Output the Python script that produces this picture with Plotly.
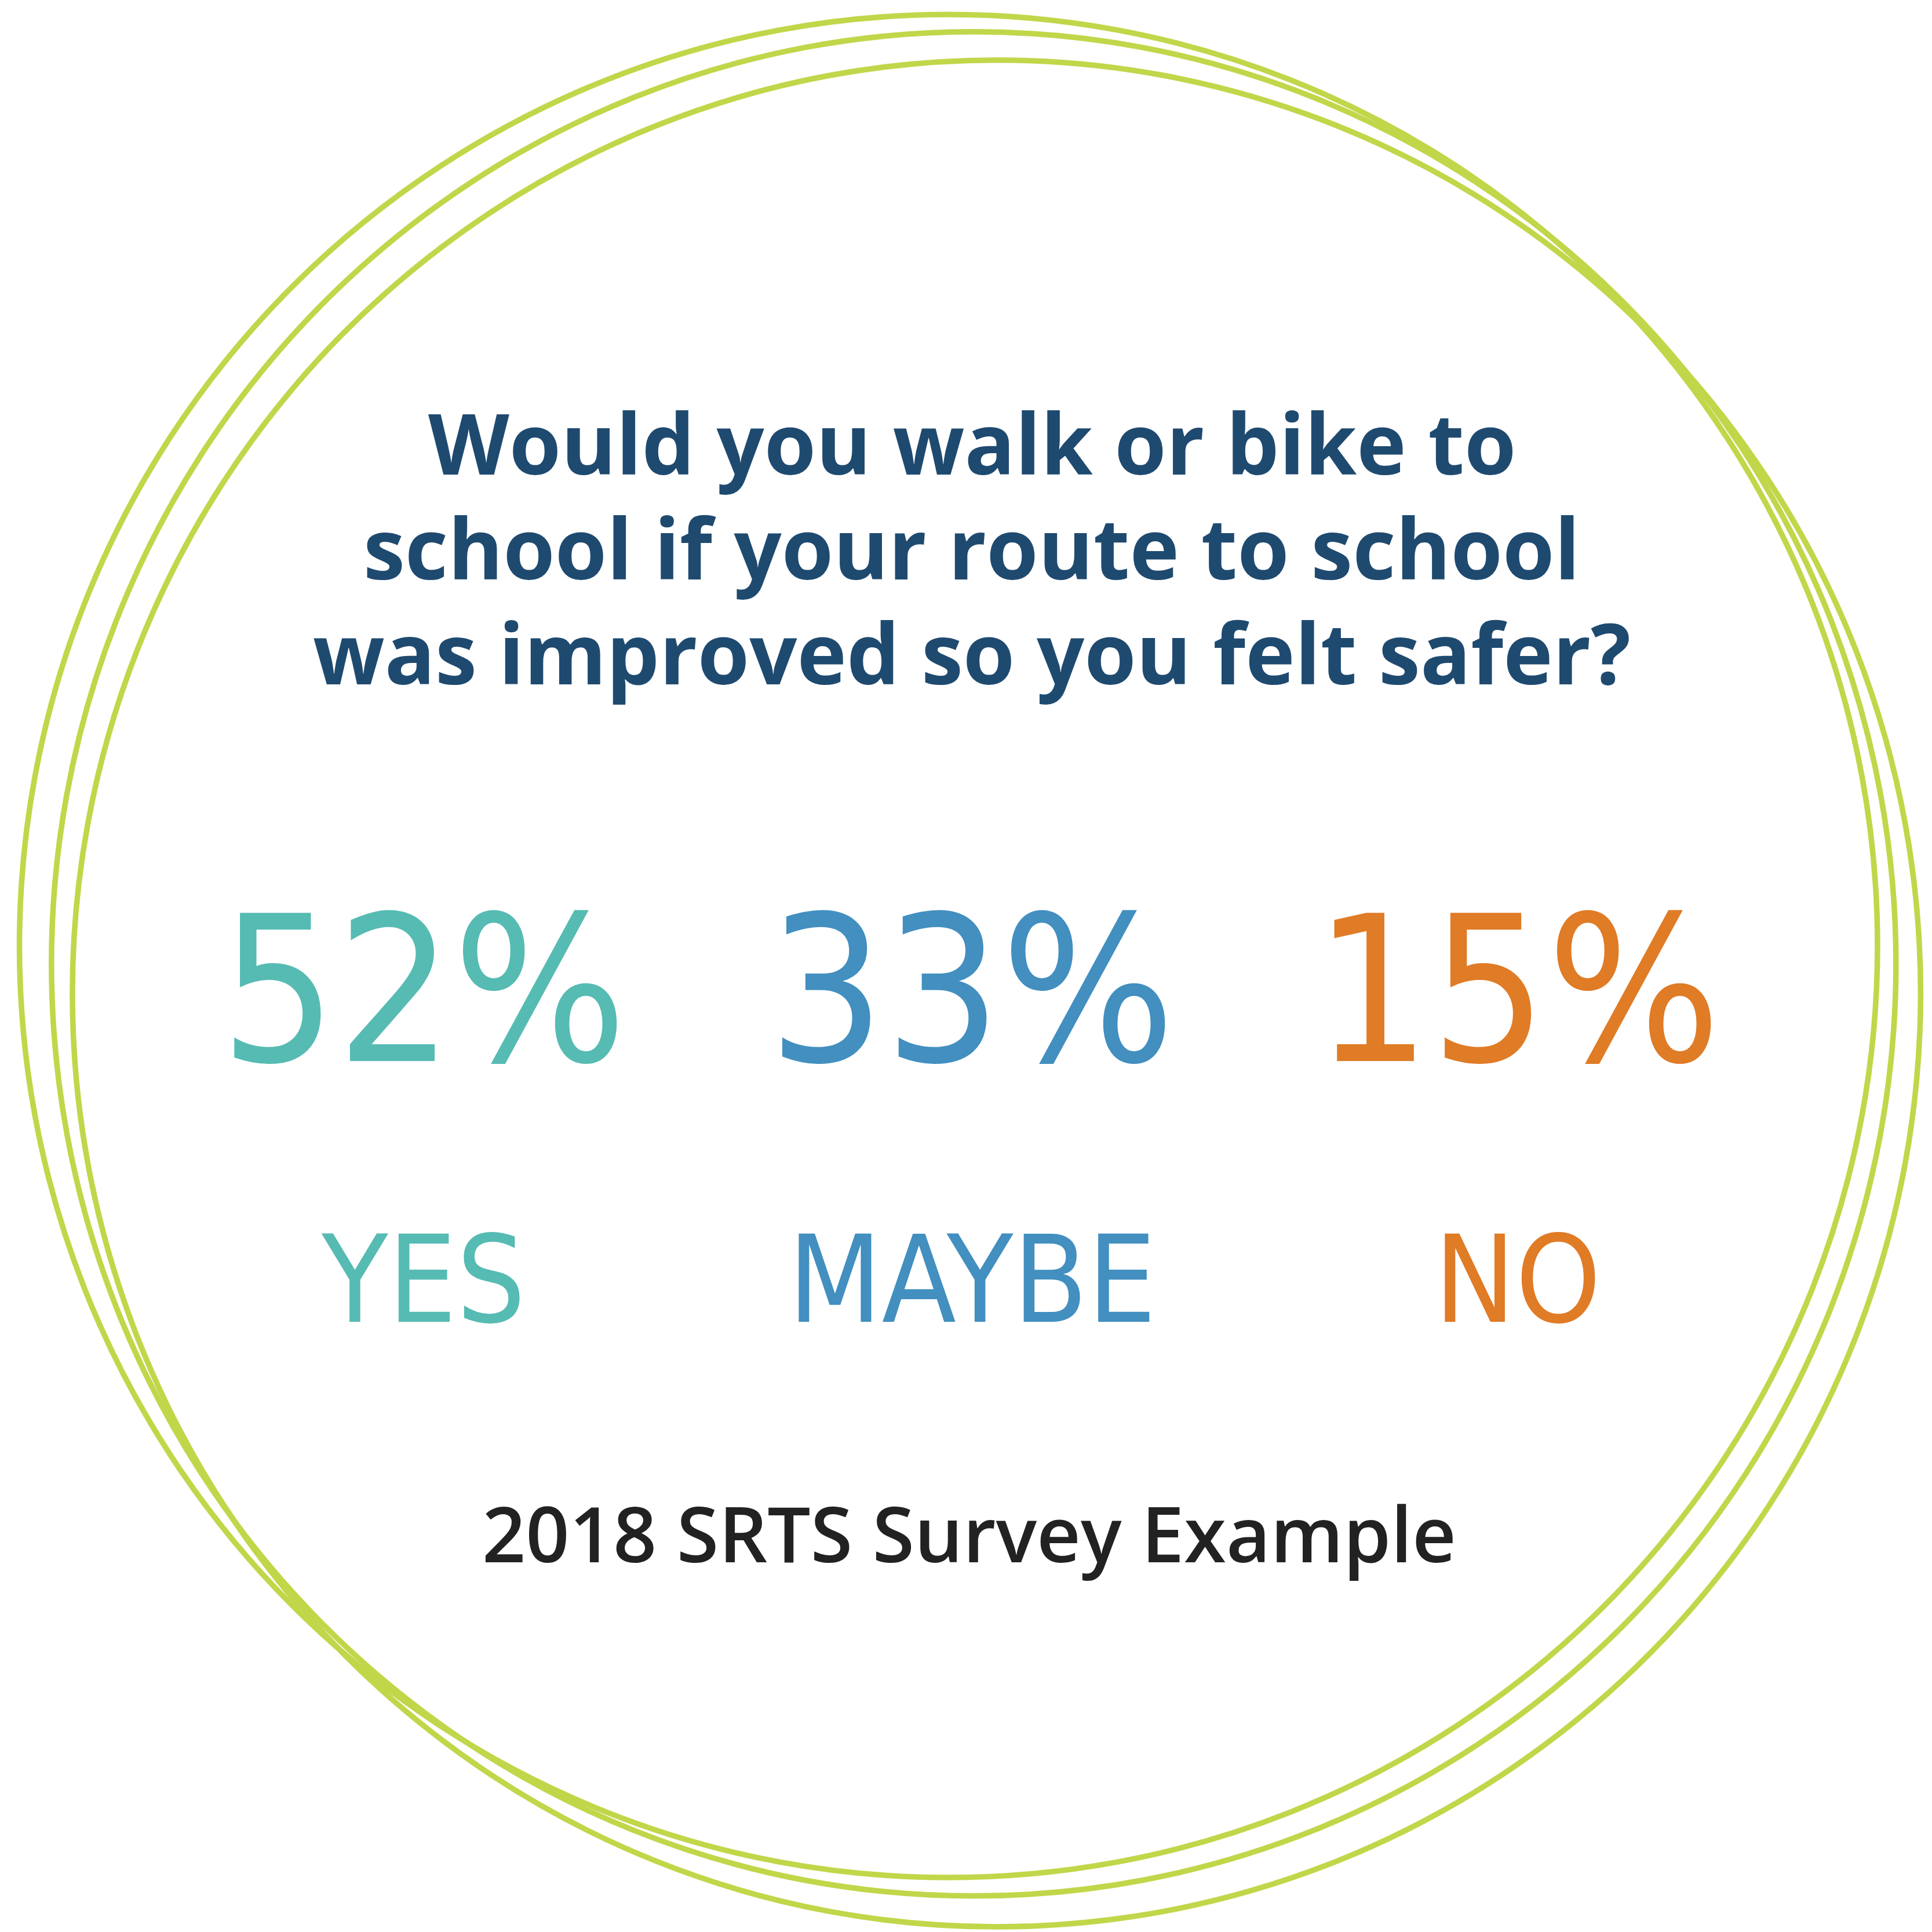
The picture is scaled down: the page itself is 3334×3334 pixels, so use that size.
import plotly.graph_objects as go

S = 3334 / 1568.0
question = ["Would you walk or bike to", "school if your route to school", "was improved so you felt safer?"]
answers = ["YES", "MAYBE", "NO"]
percents = [52, 33, 15]
answer_colors = ["#56bbb3", "#428fc0", "#e07b26"]
footer = "2018 SRTS Survey Example"
ring_color = "#c2d64a"
title_color = "#1f4a70"

fig = go.Figure()
rings = [(12, 8, 1520, 1520), (38, 22, 1535, 1535), (55, 45, 1555, 1560)]
for x0, y0, x1, y1 in rings:
    fig.add_shape(type="circle", x0=x0, y0=y0, x1=x1, y1=y1,
                  line=dict(color=ring_color, width=4.5 * S))

ys = [355, 440, 525]
for t, y in zip(question, ys):
    fig.add_annotation(x=785, y=y, text=t, showarrow=False,
                       font=dict(family="Open Sans", size=68 * S, color=title_color, weight="bold"))

xs = [340, 785, 1228]
cond = "Liberation Sans Narrow, DejaVu Sans Condensed"
for p, a, c, x in zip(percents, answers, answer_colors, xs):
    fig.add_annotation(x=x, y=800, text=f"{p}%", showarrow=False,
                       font=dict(family=cond, size=165 * S, color=c))
    fig.add_annotation(x=x, y=1035, text=a, showarrow=False,
                       font=dict(family=cond, size=98 * S, color=c))

fig.add_annotation(x=783, y=1240, text=footer, showarrow=False,
                   font=dict(family="Open Sans", size=62 * S, color="#222222", weight=600))

fig.update_xaxes(range=[0, 1568], visible=False)
fig.update_yaxes(range=[1568, 0], visible=False)
fig.update_layout(width=3334, height=3334, margin=dict(l=0, r=0, t=0, b=0),
                  plot_bgcolor="white", paper_bgcolor="white", showlegend=False)
fig.write_html("out.html")
